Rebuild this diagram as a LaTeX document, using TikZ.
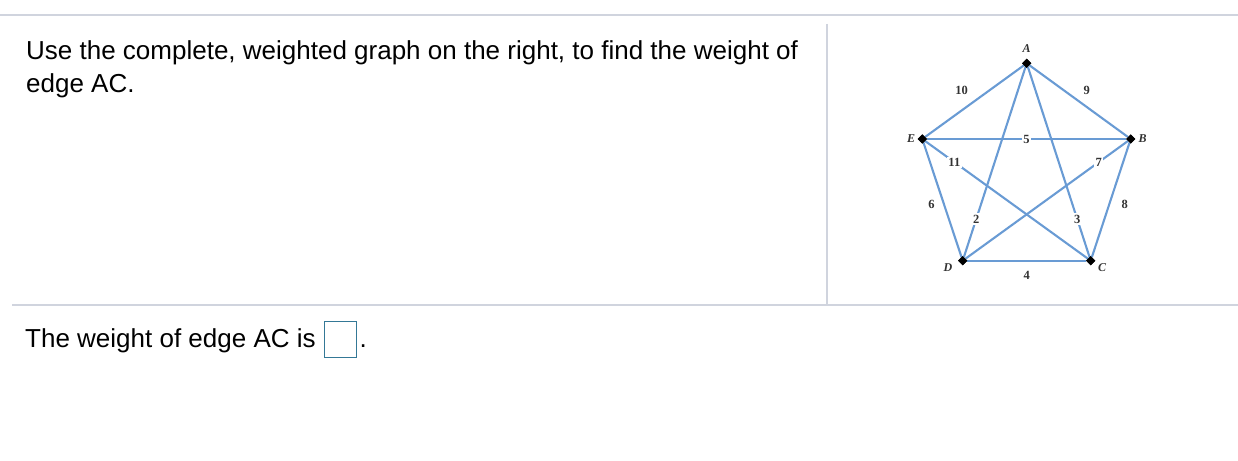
\documentclass[tikz,border=0pt]{standalone}
\usepackage{fontspec}
\setmainfont{Liberation Sans}
\newfontfamily\gfont{Liberation Serif}
\usetikzlibrary{shapes.geometric}
\definecolor{rulegray}{RGB}{208,212,222}
\definecolor{edgeblue}{RGB}{105,155,212}
\definecolor{boxblue}{RGB}{52,120,150}
\tikzset{
  rule/.style={rulegray, line width=2pt},
  qtext/.style={anchor=base west, inner sep=0pt, font=\fontsize{26}{30}\selectfont},
  vtx/.style={diamond, fill=black, minimum size=9pt, inner sep=0pt},
  vlab/.style={inner sep=0pt, font=\gfont\itshape\bfseries\fontsize{12}{13}\selectfont, text=black!80},
  wlab/.style={inner sep=1pt, font=\gfont\bfseries\fontsize{12.5}{13}\selectfont, text=black!80},
  wgap/.style={wlab, fill=white, inner sep=1.5pt},
  gedge/.style={edgeblue, line width=2.1pt},
  ansbox/.style={draw=boxblue, line width=1.6pt, minimum width=32pt, minimum height=36pt, inner sep=0pt}
}
\begin{document}
\begin{tikzpicture}[x=1pt,y=-1pt]
\useasboundingbox (0,0) rectangle (1238,460);
% frame rules
\coordinate (t1) at (0,15);
\coordinate (t2) at (1238,15);
\coordinate (m1) at (12,304.5);
\coordinate (m2) at (1238,304.5);
\coordinate (v1) at (827,24);
\coordinate (v2) at (827,304.5);
\draw[rule] (t1) -- (t2);
\draw[rule] (m1) -- (m2);
\draw[rule] (v1) -- (v2);
% question text
\node[qtext] (q1) at (26,59.5) {Use the complete, weighted graph on the right, to find the weight of};
\node[qtext] (q2) at (26,92) {edge AC.};
\node[qtext] (q3) at (25,347.5) {The weight of edge AC is};
\node[ansbox] (box) at (340.5,339.5) {};
\node[qtext] (dot) at (359.5,347.5) {.};
% graph vertices
\node[vtx] (A) at (1026.7,63.3) {};
\node[vtx] (B) at (1130.7,139) {};
\node[vtx] (C) at (1090.7,260.7) {};
\node[vtx] (D) at (962.7,260.7) {};
\node[vtx] (E) at (922.3,139) {};
\node[vlab] (lA) at (1026.7,48.5) {A};
\node[vlab] (lB) at (1142.5,139) {B};
\node[vlab] (lC) at (1102,267.5) {C};
\node[vlab] (lD) at (948,267.5) {D};
\node[vlab] (lE) at (911,139) {E};
% edges
\draw[gedge] (A) -- (E) node[wlab, pos=0.5, shift={(-13,-11)}] (w10) {10};
\draw[gedge] (A) -- (B) node[wlab, pos=0.5, shift={(8,-11)}] (w9) {9};
\draw[gedge] (E) -- (D) node[wlab, pos=0.5, shift={(-11,5)}] (w6) {6};
\draw[gedge] (B) -- (C) node[wlab, pos=0.5, shift={(14,5)}] (w8) {8};
\draw[gedge] (D) -- (C) node[wlab, pos=0.5, shift={(0,15)}] (w4) {4};
\draw[gedge] (E) -- (B) node[wgap, pos=0.5] (w5) {5};
\draw[gedge] (E) -- (C) node[wgap, pos=0.18] (w11) {11};
\draw[gedge] (D) -- (B) node[wgap, pos=0.82] (w7) {7};
\draw[gedge] (A) -- (D) node[wgap, pos=0.8] (w2) {2};
\draw[gedge] (A) -- (C) node[wgap, pos=0.8] (w3) {3};
% redraw vertices on top
\foreach \v in {A,B,C,D,E} \fill (\v.north) -- (\v.east) -- (\v.south) -- (\v.west) -- cycle;
\end{tikzpicture}
\end{document}
